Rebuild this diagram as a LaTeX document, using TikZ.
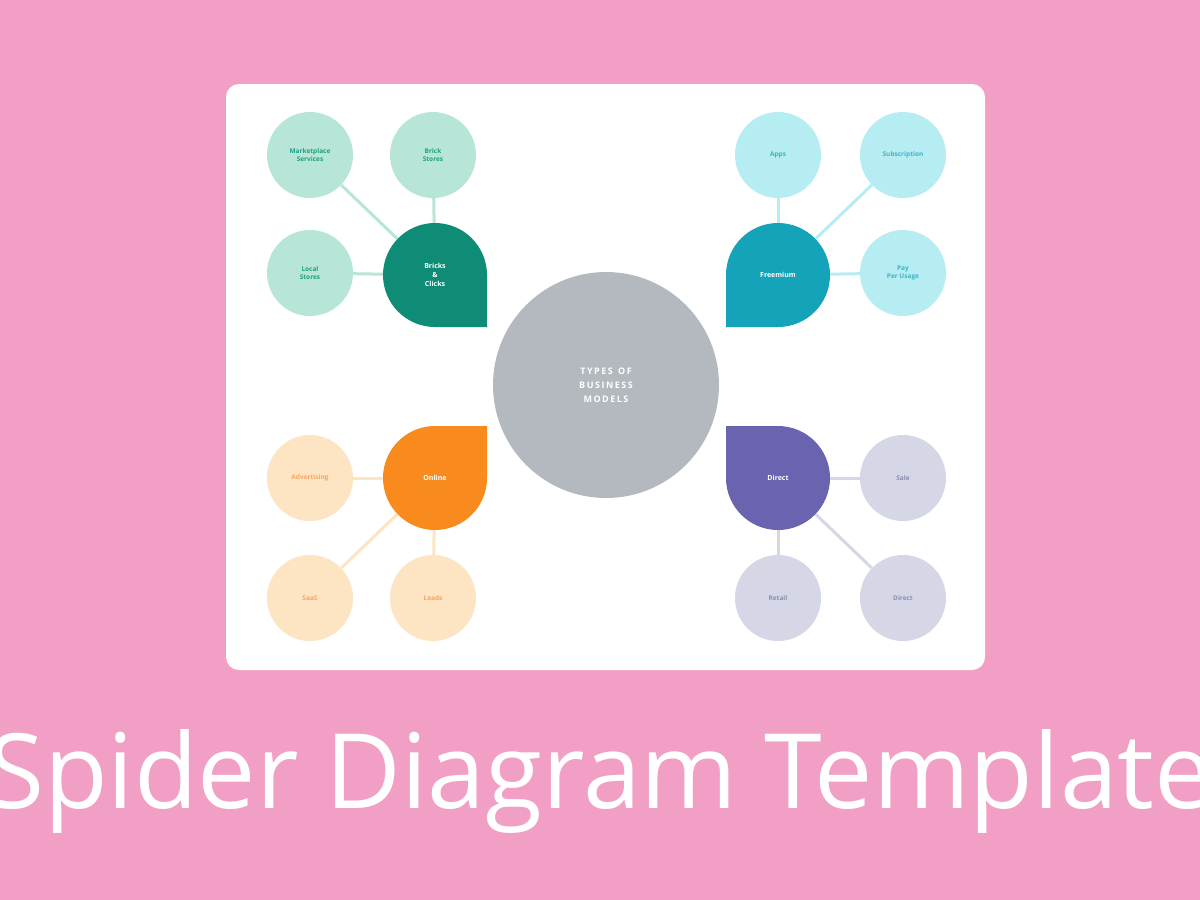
\documentclass[tikz,border=0pt]{standalone}
\usepackage{fontspec}
\setmainfont{Open Sans}
\usetikzlibrary{backgrounds}
\pgfdeclarelayer{edges}
\pgfsetlayers{background,edges,main}
\definecolor{pinkbg}{RGB}{241,159,196}
\definecolor{centergray}{RGB}{180,185,192}
\definecolor{tealhub}{RGB}{14,140,118}
\definecolor{tealleaf}{RGB}{183,230,216}
\definecolor{tealtext}{RGB}{30,160,130}
\definecolor{cyanhub}{RGB}{20,163,184}
\definecolor{cyanleaf}{RGB}{182,237,242}
\definecolor{cyantext}{RGB}{60,180,198}
\definecolor{orangehub}{RGB}{249,139,30}
\definecolor{orangeleaf}{RGB}{253,229,196}
\definecolor{orangetext}{RGB}{245,165,100}
\definecolor{purplehub}{RGB}{106,99,176}
\definecolor{purpleleaf}{RGB}{214,215,230}
\definecolor{purpletext}{RGB}{140,140,180}
\tikzset{
  leaf/.style={circle, minimum size=86pt, inner sep=0pt, align=center, font=\fontsize{6.5}{8}\selectfont\bfseries},
  hub/.style={circle, minimum size=104pt, inner sep=0pt, align=center, text=white, font=\fontsize{7}{9}\selectfont\bfseries},
  link/.style={line width=3pt},
}
\begin{document}
\begin{tikzpicture}[x=1pt,y=-1pt]
\useasboundingbox (0,0) rectangle (1200,900);
\begin{pgfonlayer}{background}
\fill[pinkbg] (0,0) rectangle (1200,900);
\fill[white, rounded corners=13pt] (226,84) rectangle (985,670);
\end{pgfonlayer}

% center
\node[circle, fill=centergray, minimum size=226pt, inner sep=0pt, align=center, text=white,
      font=\fontsize{9}{14}\selectfont\bfseries] (center) at (606,385)
  {T\,Y\,P\,E\,S\, \,O\,F\\B\,U\,S\,I\,N\,E\,S\,S\\M\,O\,D\,E\,L\,S};

% hubs (teardrop fills)
\fill[tealhub] (487,275) -- (487,327) -- (435,327) arc[start angle=90, end angle=360, radius=52] -- cycle;
\node[hub] (h1) at (435,275) {Bricks\\\&\\Clicks};
\fill[cyanhub] (778,327) -- (726,327) -- (726,275) arc[start angle=180, end angle=450, radius=52] -- cycle;
\node[hub] (h2) at (778,275) {Freemium};
\fill[orangehub] (435,426) -- (487,426) -- (487,478) arc[start angle=0, end angle=270, radius=52] -- cycle;
\node[hub] (h3) at (435,478) {Online};
\fill[purplehub] (726,478) -- (726,426) -- (778,426) arc[start angle=-90, end angle=180, radius=52] -- cycle;
\node[hub] (h4) at (778,478) {Direct};

% leaves teal
\node[leaf, fill=tealleaf, text=tealtext] (t1) at (310,155) {Marketplace\\Services};
\node[leaf, fill=tealleaf, text=tealtext] (t2) at (433,155) {Brick\\Stores};
\node[leaf, fill=tealleaf, text=tealtext] (t3) at (310,273) {Local\\Stores};
% leaves cyan
\node[leaf, fill=cyanleaf, text=cyantext] (c1) at (778,155) {Apps};
\node[leaf, fill=cyanleaf, text=cyantext] (c2) at (903,155) {Subscription};
\node[leaf, fill=cyanleaf, text=cyantext] (c3) at (903,273) {Pay\\Per Usage};
% leaves orange
\node[leaf, fill=orangeleaf, text=orangetext] (o1) at (310,478) {Advertising};
\node[leaf, fill=orangeleaf, text=orangetext] (o2) at (310,598) {SaaS};
\node[leaf, fill=orangeleaf, text=orangetext] (o3) at (433,598) {Leads};
% leaves purple
\node[leaf, fill=purpleleaf, text=purpletext] (p1) at (903,478) {Sale};
\node[leaf, fill=purpleleaf, text=purpletext] (p2) at (778,598) {Retail};
\node[leaf, fill=purpleleaf, text=purpletext] (p3) at (903,598) {Direct};

\begin{pgfonlayer}{edges}
\draw[link, tealleaf] (t1) -- (h1); \draw[link, tealleaf] (t2) -- (h1); \draw[link, tealleaf] (t3) -- (h1);
\draw[link, cyanleaf] (c1) -- (h2); \draw[link, cyanleaf] (c2) -- (h2); \draw[link, cyanleaf] (c3) -- (h2);
\draw[link, orangeleaf] (o1) -- (h3); \draw[link, orangeleaf] (o2) -- (h3); \draw[link, orangeleaf] (o3) -- (h3);
\draw[link, purpleleaf] (p1) -- (h4); \draw[link, purpleleaf] (p2) -- (h4); \draw[link, purpleleaf] (p3) -- (h4);
\end{pgfonlayer}

% title
\node[anchor=base, text=white, font=\fontsize{104}{114}\selectfont, inner sep=0pt] (title) at (600,808) {Spider Diagram Template};
\end{tikzpicture}
\end{document}
